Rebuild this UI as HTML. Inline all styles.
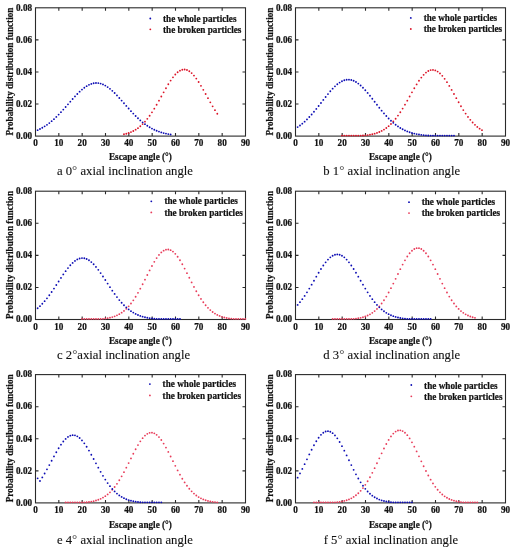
<!DOCTYPE html>
<html><head><meta charset="utf-8"><title>Escape angle distributions</title>
<style>html,body{margin:0;padding:0;background:#fff}svg{display:block}text{font-family:"Liberation Serif",serif;fill:#111}.b{font-weight:bold;font-size:9.9px;stroke:#111;stroke-width:.22px}.c{font-size:13.1px;stroke:#111;stroke-width:.12px}</style></head><body>
<svg width="513" height="550" viewBox="0 0 513 550">
<rect width="513" height="550" fill="#fff"/>
<g>
<rect x="35.5" y="7.8" width="210" height="128.3" fill="none" stroke="#2a2a2a" stroke-width="1.1"/>
<path d="M58.83 136.1v-3M58.83 7.8v3M82.17 136.1v-3M82.17 7.8v3M105.5 136.1v-3M105.5 7.8v3M128.83 136.1v-3M128.83 7.8v3M152.17 136.1v-3M152.17 7.8v3M175.5 136.1v-3M175.5 7.8v3M198.83 136.1v-3M198.83 7.8v3M222.17 136.1v-3M222.17 7.8v3M35.5 104.03h3M245.5 104.03h-3M35.5 71.95h3M245.5 71.95h-3M35.5 39.88h3M245.5 39.88h-3" stroke="#2a2a2a" stroke-width="1.1" fill="none"/>
<text class="b" transform="translate(35.5 146.3) scale(0.928 1)" text-anchor="middle">0</text>
<text class="b" transform="translate(58.83 146.3) scale(0.928 1)" text-anchor="middle">10</text>
<text class="b" transform="translate(82.17 146.3) scale(0.928 1)" text-anchor="middle">20</text>
<text class="b" transform="translate(105.5 146.3) scale(0.928 1)" text-anchor="middle">30</text>
<text class="b" transform="translate(128.83 146.3) scale(0.928 1)" text-anchor="middle">40</text>
<text class="b" transform="translate(152.17 146.3) scale(0.928 1)" text-anchor="middle">50</text>
<text class="b" transform="translate(175.5 146.3) scale(0.928 1)" text-anchor="middle">60</text>
<text class="b" transform="translate(198.83 146.3) scale(0.928 1)" text-anchor="middle">70</text>
<text class="b" transform="translate(222.17 146.3) scale(0.928 1)" text-anchor="middle">80</text>
<text class="b" transform="translate(245.5 146.3) scale(0.928 1)" text-anchor="middle">90</text>
<text class="b" transform="translate(32.1 138.9) scale(0.928 1)" text-anchor="end">0.00</text>
<text class="b" transform="translate(32.1 106.83) scale(0.928 1)" text-anchor="end">0.02</text>
<text class="b" transform="translate(32.1 74.75) scale(0.928 1)" text-anchor="end">0.04</text>
<text class="b" transform="translate(32.1 42.68) scale(0.928 1)" text-anchor="end">0.06</text>
<text class="b" transform="translate(32.1 10.6) scale(0.928 1)" text-anchor="end">0.08</text>
<text class="b" transform="translate(140.4 159.8) scale(0.928 1)" text-anchor="middle">Escape angle (°)</text>
<text class="b" transform="translate(12.6 71.55) rotate(-90) scale(0.928 1)" text-anchor="middle">Probability distribution function</text>
<text class="c" x="57" y="175.3" textLength="135.9" lengthAdjust="spacingAndGlyphs">a 0<tspan dy="-1.1" font-size="13.4" stroke="none" fill="#444">°</tspan><tspan dy="1.1"> axial inclination angle</tspan></text>
<circle cx="150.3" cy="18.5" r="0.92" fill="#0c0cb4"/>
<circle cx="150.3" cy="29.3" r="0.92" fill="#dc1428"/>
<text class="b" transform="translate(163 21.9) scale(0.928 1)">the whole particles</text>
<text class="b" transform="translate(163 32.9) scale(0.928 1)">the broken particles</text>
<g fill="#dc1428">
<circle cx="123.97" cy="134.29" r="0.92"/>
<circle cx="126.3" cy="133.72" r="0.92"/>
<circle cx="128.63" cy="133" r="0.92"/>
<circle cx="130.97" cy="132.11" r="0.92"/>
<circle cx="133.3" cy="131.02" r="0.92"/>
<circle cx="135.63" cy="129.7" r="0.92"/>
<circle cx="137.97" cy="128.13" r="0.92"/>
<circle cx="140.3" cy="126.28" r="0.92"/>
<circle cx="142.63" cy="124.12" r="0.92"/>
<circle cx="144.97" cy="121.66" r="0.92"/>
<circle cx="147.3" cy="118.87" r="0.92"/>
<circle cx="149.63" cy="115.76" r="0.92"/>
<circle cx="151.97" cy="112.36" r="0.92"/>
<circle cx="154.3" cy="108.68" r="0.92"/>
<circle cx="156.63" cy="104.77" r="0.92"/>
<circle cx="158.97" cy="100.69" r="0.92"/>
<circle cx="161.3" cy="96.52" r="0.92"/>
<circle cx="163.63" cy="92.32" r="0.92"/>
<circle cx="165.97" cy="88.21" r="0.92"/>
<circle cx="168.3" cy="84.27" r="0.92"/>
<circle cx="170.63" cy="80.61" r="0.92"/>
<circle cx="172.97" cy="77.33" r="0.92"/>
<circle cx="175.3" cy="74.53" r="0.92"/>
<circle cx="177.63" cy="72.29" r="0.92"/>
<circle cx="179.97" cy="70.68" r="0.92"/>
<circle cx="182.3" cy="69.75" r="0.92"/>
<circle cx="184.63" cy="69.54" r="0.92"/>
<circle cx="186.97" cy="70.04" r="0.92"/>
<circle cx="189.3" cy="71.25" r="0.92"/>
<circle cx="191.63" cy="73.11" r="0.92"/>
<circle cx="193.97" cy="75.59" r="0.92"/>
<circle cx="196.3" cy="78.59" r="0.92"/>
<circle cx="198.63" cy="82.03" r="0.92"/>
<circle cx="200.97" cy="85.82" r="0.92"/>
<circle cx="203.3" cy="89.84" r="0.92"/>
<circle cx="205.63" cy="94" r="0.92"/>
<circle cx="207.97" cy="98.2" r="0.92"/>
<circle cx="210.3" cy="102.34" r="0.92"/>
<circle cx="212.63" cy="106.36" r="0.92"/>
<circle cx="214.97" cy="110.18" r="0.92"/>
<circle cx="217.3" cy="113.75" r="0.92"/>
</g>
<g fill="#0c0cb4">
<circle cx="37.63" cy="130.14" r="0.92"/>
<circle cx="39.97" cy="129.03" r="0.92"/>
<circle cx="42.3" cy="127.78" r="0.92"/>
<circle cx="44.63" cy="126.37" r="0.92"/>
<circle cx="46.97" cy="124.8" r="0.92"/>
<circle cx="49.3" cy="123.07" r="0.92"/>
<circle cx="51.63" cy="121.18" r="0.92"/>
<circle cx="53.97" cy="119.13" r="0.92"/>
<circle cx="56.3" cy="116.93" r="0.92"/>
<circle cx="58.63" cy="114.59" r="0.92"/>
<circle cx="60.97" cy="112.14" r="0.92"/>
<circle cx="63.3" cy="109.58" r="0.92"/>
<circle cx="65.63" cy="106.96" r="0.92"/>
<circle cx="67.97" cy="104.3" r="0.92"/>
<circle cx="70.3" cy="101.63" r="0.92"/>
<circle cx="72.63" cy="98.99" r="0.92"/>
<circle cx="74.97" cy="96.43" r="0.92"/>
<circle cx="77.3" cy="93.98" r="0.92"/>
<circle cx="79.63" cy="91.68" r="0.92"/>
<circle cx="81.97" cy="89.59" r="0.92"/>
<circle cx="84.3" cy="87.72" r="0.92"/>
<circle cx="86.63" cy="86.13" r="0.92"/>
<circle cx="88.97" cy="84.84" r="0.92"/>
<circle cx="91.3" cy="83.88" r="0.92"/>
<circle cx="93.63" cy="83.27" r="0.92"/>
<circle cx="95.97" cy="83.01" r="0.92"/>
<circle cx="98.3" cy="83.12" r="0.92"/>
<circle cx="100.63" cy="83.59" r="0.92"/>
<circle cx="102.97" cy="84.42" r="0.92"/>
<circle cx="105.3" cy="85.58" r="0.92"/>
<circle cx="107.63" cy="87.05" r="0.92"/>
<circle cx="109.97" cy="88.81" r="0.92"/>
<circle cx="112.3" cy="90.82" r="0.92"/>
<circle cx="114.63" cy="93.04" r="0.92"/>
<circle cx="116.97" cy="95.43" r="0.92"/>
<circle cx="119.3" cy="97.96" r="0.92"/>
<circle cx="121.63" cy="100.57" r="0.92"/>
<circle cx="123.97" cy="103.23" r="0.92"/>
<circle cx="126.3" cy="105.9" r="0.92"/>
<circle cx="128.63" cy="108.54" r="0.92"/>
<circle cx="130.97" cy="111.13" r="0.92"/>
<circle cx="133.3" cy="113.62" r="0.92"/>
<circle cx="135.63" cy="116.01" r="0.92"/>
<circle cx="137.97" cy="118.27" r="0.92"/>
<circle cx="140.3" cy="120.38" r="0.92"/>
<circle cx="142.63" cy="122.34" r="0.92"/>
<circle cx="144.97" cy="124.13" r="0.92"/>
<circle cx="147.3" cy="125.76" r="0.92"/>
<circle cx="149.63" cy="127.24" r="0.92"/>
<circle cx="151.97" cy="128.55" r="0.92"/>
<circle cx="154.3" cy="129.71" r="0.92"/>
<circle cx="156.63" cy="130.73" r="0.92"/>
<circle cx="158.97" cy="131.62" r="0.92"/>
<circle cx="161.3" cy="132.39" r="0.92"/>
<circle cx="163.63" cy="133.05" r="0.92"/>
<circle cx="165.97" cy="133.61" r="0.92"/>
<circle cx="168.3" cy="134.08" r="0.92"/>
<circle cx="170.63" cy="134.47" r="0.92"/>
</g>
</g>
<g>
<rect x="295.5" y="7.8" width="210" height="128.3" fill="none" stroke="#2a2a2a" stroke-width="1.1"/>
<path d="M318.83 136.1v-3M318.83 7.8v3M342.17 136.1v-3M342.17 7.8v3M365.5 136.1v-3M365.5 7.8v3M388.83 136.1v-3M388.83 7.8v3M412.17 136.1v-3M412.17 7.8v3M435.5 136.1v-3M435.5 7.8v3M458.83 136.1v-3M458.83 7.8v3M482.17 136.1v-3M482.17 7.8v3M295.5 104.03h3M505.5 104.03h-3M295.5 71.95h3M505.5 71.95h-3M295.5 39.88h3M505.5 39.88h-3" stroke="#2a2a2a" stroke-width="1.1" fill="none"/>
<text class="b" transform="translate(295.5 146.3) scale(0.928 1)" text-anchor="middle">0</text>
<text class="b" transform="translate(318.83 146.3) scale(0.928 1)" text-anchor="middle">10</text>
<text class="b" transform="translate(342.17 146.3) scale(0.928 1)" text-anchor="middle">20</text>
<text class="b" transform="translate(365.5 146.3) scale(0.928 1)" text-anchor="middle">30</text>
<text class="b" transform="translate(388.83 146.3) scale(0.928 1)" text-anchor="middle">40</text>
<text class="b" transform="translate(412.17 146.3) scale(0.928 1)" text-anchor="middle">50</text>
<text class="b" transform="translate(435.5 146.3) scale(0.928 1)" text-anchor="middle">60</text>
<text class="b" transform="translate(458.83 146.3) scale(0.928 1)" text-anchor="middle">70</text>
<text class="b" transform="translate(482.17 146.3) scale(0.928 1)" text-anchor="middle">80</text>
<text class="b" transform="translate(505.5 146.3) scale(0.928 1)" text-anchor="middle">90</text>
<text class="b" transform="translate(292.1 138.9) scale(0.928 1)" text-anchor="end">0.00</text>
<text class="b" transform="translate(292.1 106.83) scale(0.928 1)" text-anchor="end">0.02</text>
<text class="b" transform="translate(292.1 74.75) scale(0.928 1)" text-anchor="end">0.04</text>
<text class="b" transform="translate(292.1 42.68) scale(0.928 1)" text-anchor="end">0.06</text>
<text class="b" transform="translate(292.1 10.6) scale(0.928 1)" text-anchor="end">0.08</text>
<text class="b" transform="translate(400.4 159.8) scale(0.928 1)" text-anchor="middle">Escape angle (°)</text>
<text class="b" transform="translate(272.6 71.55) rotate(-90) scale(0.928 1)" text-anchor="middle">Probability distribution function</text>
<text class="c" x="323.3" y="175.2" textLength="136.8" lengthAdjust="spacingAndGlyphs">b 1<tspan dy="-1.1" font-size="13.4" stroke="none" fill="#444">°</tspan><tspan dy="1.1"> axial inclination angle</tspan></text>
<circle cx="410.8" cy="17.9" r="0.92" fill="#0c0cb4"/>
<circle cx="410.8" cy="29" r="0.92" fill="#dc1428"/>
<text class="b" transform="translate(423.7 20.9) scale(0.928 1)">the whole particles</text>
<text class="b" transform="translate(423.7 32.4) scale(0.928 1)">the broken particles</text>
<g fill="#dc1428">
<circle cx="341.97" cy="135.55" r="0.92"/>
<circle cx="344.3" cy="135.55" r="0.92"/>
<circle cx="346.63" cy="135.55" r="0.92"/>
<circle cx="348.97" cy="135.55" r="0.92"/>
<circle cx="351.3" cy="135.55" r="0.92"/>
<circle cx="353.63" cy="135.55" r="0.92"/>
<circle cx="355.97" cy="135.55" r="0.92"/>
<circle cx="358.3" cy="135.55" r="0.92"/>
<circle cx="360.63" cy="135.55" r="0.92"/>
<circle cx="362.97" cy="135.53" r="0.92"/>
<circle cx="365.3" cy="135.32" r="0.92"/>
<circle cx="367.63" cy="135.05" r="0.92"/>
<circle cx="369.97" cy="134.69" r="0.92"/>
<circle cx="372.3" cy="134.23" r="0.92"/>
<circle cx="374.63" cy="133.65" r="0.92"/>
<circle cx="376.97" cy="132.92" r="0.92"/>
<circle cx="379.3" cy="132.01" r="0.92"/>
<circle cx="381.63" cy="130.91" r="0.92"/>
<circle cx="383.97" cy="129.58" r="0.92"/>
<circle cx="386.3" cy="127.99" r="0.92"/>
<circle cx="388.63" cy="126.13" r="0.92"/>
<circle cx="390.97" cy="123.97" r="0.92"/>
<circle cx="393.3" cy="121.5" r="0.92"/>
<circle cx="395.63" cy="118.72" r="0.92"/>
<circle cx="397.97" cy="115.62" r="0.92"/>
<circle cx="400.3" cy="112.23" r="0.92"/>
<circle cx="402.63" cy="108.57" r="0.92"/>
<circle cx="404.97" cy="104.69" r="0.92"/>
<circle cx="407.3" cy="100.65" r="0.92"/>
<circle cx="409.63" cy="96.51" r="0.92"/>
<circle cx="411.97" cy="92.36" r="0.92"/>
<circle cx="414.3" cy="88.29" r="0.92"/>
<circle cx="416.63" cy="84.4" r="0.92"/>
<circle cx="418.97" cy="80.79" r="0.92"/>
<circle cx="421.3" cy="77.56" r="0.92"/>
<circle cx="423.63" cy="74.8" r="0.92"/>
<circle cx="425.97" cy="72.59" r="0.92"/>
<circle cx="428.3" cy="71.01" r="0.92"/>
<circle cx="430.63" cy="70.09" r="0.92"/>
<circle cx="432.97" cy="69.88" r="0.92"/>
<circle cx="435.3" cy="70.38" r="0.92"/>
<circle cx="437.63" cy="71.56" r="0.92"/>
<circle cx="439.97" cy="73.4" r="0.92"/>
<circle cx="442.3" cy="75.84" r="0.92"/>
<circle cx="444.63" cy="78.8" r="0.92"/>
<circle cx="446.97" cy="82.2" r="0.92"/>
<circle cx="449.3" cy="85.93" r="0.92"/>
<circle cx="451.63" cy="89.9" r="0.92"/>
<circle cx="453.97" cy="94.02" r="0.92"/>
<circle cx="456.3" cy="98.17" r="0.92"/>
<circle cx="458.63" cy="102.28" r="0.92"/>
<circle cx="460.97" cy="106.27" r="0.92"/>
<circle cx="463.3" cy="110.06" r="0.92"/>
<circle cx="465.63" cy="113.62" r="0.92"/>
<circle cx="467.97" cy="116.89" r="0.92"/>
<circle cx="470.3" cy="119.87" r="0.92"/>
<circle cx="472.63" cy="122.53" r="0.92"/>
<circle cx="474.97" cy="124.87" r="0.92"/>
<circle cx="477.3" cy="126.91" r="0.92"/>
<circle cx="479.63" cy="128.66" r="0.92"/>
<circle cx="481.97" cy="130.14" r="0.92"/>
</g>
<g fill="#0c0cb4">
<circle cx="297.63" cy="127.08" r="0.92"/>
<circle cx="299.97" cy="125.46" r="0.92"/>
<circle cx="302.3" cy="123.65" r="0.92"/>
<circle cx="304.63" cy="121.64" r="0.92"/>
<circle cx="306.97" cy="119.43" r="0.92"/>
<circle cx="309.3" cy="117.04" r="0.92"/>
<circle cx="311.63" cy="114.48" r="0.92"/>
<circle cx="313.97" cy="111.76" r="0.92"/>
<circle cx="316.3" cy="108.92" r="0.92"/>
<circle cx="318.63" cy="105.97" r="0.92"/>
<circle cx="320.97" cy="102.97" r="0.92"/>
<circle cx="323.3" cy="99.95" r="0.92"/>
<circle cx="325.63" cy="96.96" r="0.92"/>
<circle cx="327.97" cy="94.05" r="0.92"/>
<circle cx="330.3" cy="91.27" r="0.92"/>
<circle cx="332.63" cy="88.69" r="0.92"/>
<circle cx="334.97" cy="86.34" r="0.92"/>
<circle cx="337.3" cy="84.29" r="0.92"/>
<circle cx="339.63" cy="82.56" r="0.92"/>
<circle cx="341.97" cy="81.21" r="0.92"/>
<circle cx="344.3" cy="80.26" r="0.92"/>
<circle cx="346.63" cy="79.74" r="0.92"/>
<circle cx="348.97" cy="79.65" r="0.92"/>
<circle cx="351.3" cy="80" r="0.92"/>
<circle cx="353.63" cy="80.78" r="0.92"/>
<circle cx="355.97" cy="81.98" r="0.92"/>
<circle cx="358.3" cy="83.55" r="0.92"/>
<circle cx="360.63" cy="85.48" r="0.92"/>
<circle cx="362.97" cy="87.72" r="0.92"/>
<circle cx="365.3" cy="90.21" r="0.92"/>
<circle cx="367.63" cy="92.92" r="0.92"/>
<circle cx="369.97" cy="95.78" r="0.92"/>
<circle cx="372.3" cy="98.74" r="0.92"/>
<circle cx="374.63" cy="101.76" r="0.92"/>
<circle cx="376.97" cy="104.77" r="0.92"/>
<circle cx="379.3" cy="107.75" r="0.92"/>
<circle cx="381.63" cy="110.64" r="0.92"/>
<circle cx="383.97" cy="113.41" r="0.92"/>
<circle cx="386.3" cy="116.04" r="0.92"/>
<circle cx="388.63" cy="118.5" r="0.92"/>
<circle cx="390.97" cy="120.78" r="0.92"/>
<circle cx="393.3" cy="122.87" r="0.92"/>
<circle cx="395.63" cy="124.76" r="0.92"/>
<circle cx="397.97" cy="126.45" r="0.92"/>
<circle cx="400.3" cy="127.96" r="0.92"/>
<circle cx="402.63" cy="129.28" r="0.92"/>
<circle cx="404.97" cy="130.44" r="0.92"/>
<circle cx="407.3" cy="131.43" r="0.92"/>
<circle cx="409.63" cy="132.28" r="0.92"/>
<circle cx="411.97" cy="133" r="0.92"/>
<circle cx="414.3" cy="133.61" r="0.92"/>
<circle cx="416.63" cy="134.11" r="0.92"/>
<circle cx="418.97" cy="134.52" r="0.92"/>
<circle cx="421.3" cy="134.86" r="0.92"/>
<circle cx="423.63" cy="135.13" r="0.92"/>
<circle cx="425.97" cy="135.35" r="0.92"/>
<circle cx="428.3" cy="135.52" r="0.92"/>
<circle cx="430.63" cy="135.55" r="0.92"/>
<circle cx="432.97" cy="135.55" r="0.92"/>
<circle cx="435.3" cy="135.55" r="0.92"/>
<circle cx="437.63" cy="135.55" r="0.92"/>
<circle cx="439.97" cy="135.55" r="0.92"/>
<circle cx="442.3" cy="135.55" r="0.92"/>
<circle cx="444.63" cy="135.55" r="0.92"/>
<circle cx="446.97" cy="135.55" r="0.92"/>
<circle cx="449.3" cy="135.55" r="0.92"/>
<circle cx="451.63" cy="135.55" r="0.92"/>
<circle cx="453.97" cy="135.55" r="0.92"/>
</g>
</g>
<g>
<rect x="35.5" y="191.2" width="210" height="128.3" fill="none" stroke="#2a2a2a" stroke-width="1.1"/>
<path d="M58.83 319.5v-3M58.83 191.2v3M82.17 319.5v-3M82.17 191.2v3M105.5 319.5v-3M105.5 191.2v3M128.83 319.5v-3M128.83 191.2v3M152.17 319.5v-3M152.17 191.2v3M175.5 319.5v-3M175.5 191.2v3M198.83 319.5v-3M198.83 191.2v3M222.17 319.5v-3M222.17 191.2v3M35.5 287.43h3M245.5 287.43h-3M35.5 255.35h3M245.5 255.35h-3M35.5 223.28h3M245.5 223.28h-3" stroke="#2a2a2a" stroke-width="1.1" fill="none"/>
<text class="b" transform="translate(35.5 329.7) scale(0.928 1)" text-anchor="middle">0</text>
<text class="b" transform="translate(58.83 329.7) scale(0.928 1)" text-anchor="middle">10</text>
<text class="b" transform="translate(82.17 329.7) scale(0.928 1)" text-anchor="middle">20</text>
<text class="b" transform="translate(105.5 329.7) scale(0.928 1)" text-anchor="middle">30</text>
<text class="b" transform="translate(128.83 329.7) scale(0.928 1)" text-anchor="middle">40</text>
<text class="b" transform="translate(152.17 329.7) scale(0.928 1)" text-anchor="middle">50</text>
<text class="b" transform="translate(175.5 329.7) scale(0.928 1)" text-anchor="middle">60</text>
<text class="b" transform="translate(198.83 329.7) scale(0.928 1)" text-anchor="middle">70</text>
<text class="b" transform="translate(222.17 329.7) scale(0.928 1)" text-anchor="middle">80</text>
<text class="b" transform="translate(245.5 329.7) scale(0.928 1)" text-anchor="middle">90</text>
<text class="b" transform="translate(32.1 322.3) scale(0.928 1)" text-anchor="end">0.00</text>
<text class="b" transform="translate(32.1 290.23) scale(0.928 1)" text-anchor="end">0.02</text>
<text class="b" transform="translate(32.1 258.15) scale(0.928 1)" text-anchor="end">0.04</text>
<text class="b" transform="translate(32.1 226.08) scale(0.928 1)" text-anchor="end">0.06</text>
<text class="b" transform="translate(32.1 194) scale(0.928 1)" text-anchor="end">0.08</text>
<text class="b" transform="translate(140.4 344.3) scale(0.928 1)" text-anchor="middle">Escape angle (°)</text>
<text class="b" transform="translate(12.6 254.95) rotate(-90) scale(0.928 1)" text-anchor="middle">Probability distribution function</text>
<text class="c" x="57" y="358.7" textLength="133.1" lengthAdjust="spacingAndGlyphs">c 2<tspan dy="-1.1" font-size="13.4" stroke="none" fill="#444">°</tspan><tspan dy="1.1">axial inclination angle</tspan></text>
<circle cx="151.3" cy="201.3" r="0.92" fill="#0c0cb4"/>
<circle cx="151.3" cy="212.4" r="0.92" fill="#e83c5a"/>
<text class="b" transform="translate(164.4 204.4) scale(0.928 1)">the whole particles</text>
<text class="b" transform="translate(164.4 215.8) scale(0.928 1)">the broken particles</text>
<g fill="#e83c5a">
<circle cx="81.97" cy="318.95" r="0.92"/>
<circle cx="84.3" cy="318.95" r="0.92"/>
<circle cx="86.63" cy="318.95" r="0.92"/>
<circle cx="88.97" cy="318.95" r="0.92"/>
<circle cx="91.3" cy="318.95" r="0.92"/>
<circle cx="93.63" cy="318.95" r="0.92"/>
<circle cx="95.97" cy="318.95" r="0.92"/>
<circle cx="98.3" cy="318.95" r="0.92"/>
<circle cx="100.63" cy="318.95" r="0.92"/>
<circle cx="102.97" cy="318.8" r="0.92"/>
<circle cx="105.3" cy="318.53" r="0.92"/>
<circle cx="107.63" cy="318.17" r="0.92"/>
<circle cx="109.97" cy="317.7" r="0.92"/>
<circle cx="112.3" cy="317.09" r="0.92"/>
<circle cx="114.63" cy="316.31" r="0.92"/>
<circle cx="116.97" cy="315.34" r="0.92"/>
<circle cx="119.3" cy="314.14" r="0.92"/>
<circle cx="121.63" cy="312.67" r="0.92"/>
<circle cx="123.97" cy="310.9" r="0.92"/>
<circle cx="126.3" cy="308.8" r="0.92"/>
<circle cx="128.63" cy="306.35" r="0.92"/>
<circle cx="130.97" cy="303.52" r="0.92"/>
<circle cx="133.3" cy="300.33" r="0.92"/>
<circle cx="135.63" cy="296.77" r="0.92"/>
<circle cx="137.97" cy="292.87" r="0.92"/>
<circle cx="140.3" cy="288.67" r="0.92"/>
<circle cx="142.63" cy="284.24" r="0.92"/>
<circle cx="144.97" cy="279.65" r="0.92"/>
<circle cx="147.3" cy="275" r="0.92"/>
<circle cx="149.63" cy="270.4" r="0.92"/>
<circle cx="151.97" cy="265.97" r="0.92"/>
<circle cx="154.3" cy="261.83" r="0.92"/>
<circle cx="156.63" cy="258.12" r="0.92"/>
<circle cx="158.97" cy="254.95" r="0.92"/>
<circle cx="161.3" cy="252.42" r="0.92"/>
<circle cx="163.63" cy="250.63" r="0.92"/>
<circle cx="165.97" cy="249.63" r="0.92"/>
<circle cx="168.3" cy="249.46" r="0.92"/>
<circle cx="170.63" cy="250.13" r="0.92"/>
<circle cx="172.97" cy="251.61" r="0.92"/>
<circle cx="175.3" cy="253.85" r="0.92"/>
<circle cx="177.63" cy="256.78" r="0.92"/>
<circle cx="179.97" cy="260.29" r="0.92"/>
<circle cx="182.3" cy="264.27" r="0.92"/>
<circle cx="184.63" cy="268.6" r="0.92"/>
<circle cx="186.97" cy="273.14" r="0.92"/>
<circle cx="189.3" cy="277.79" r="0.92"/>
<circle cx="191.63" cy="282.41" r="0.92"/>
<circle cx="193.97" cy="286.92" r="0.92"/>
<circle cx="196.3" cy="291.22" r="0.92"/>
<circle cx="198.63" cy="295.25" r="0.92"/>
<circle cx="200.97" cy="298.95" r="0.92"/>
<circle cx="203.3" cy="302.29" r="0.92"/>
<circle cx="205.63" cy="305.26" r="0.92"/>
<circle cx="207.97" cy="307.86" r="0.92"/>
<circle cx="210.3" cy="310.1" r="0.92"/>
<circle cx="212.63" cy="312" r="0.92"/>
<circle cx="214.97" cy="313.58" r="0.92"/>
<circle cx="217.3" cy="314.89" r="0.92"/>
<circle cx="219.63" cy="315.95" r="0.92"/>
<circle cx="221.97" cy="316.8" r="0.92"/>
<circle cx="224.3" cy="317.47" r="0.92"/>
<circle cx="226.63" cy="317.99" r="0.92"/>
<circle cx="228.97" cy="318.39" r="0.92"/>
<circle cx="231.3" cy="318.7" r="0.92"/>
<circle cx="233.63" cy="318.93" r="0.92"/>
<circle cx="235.97" cy="318.95" r="0.92"/>
<circle cx="238.3" cy="318.95" r="0.92"/>
<circle cx="240.63" cy="318.95" r="0.92"/>
<circle cx="242.97" cy="318.95" r="0.92"/>
<circle cx="245.3" cy="318.95" r="0.92"/>
</g>
<g fill="#0c0cb4">
<circle cx="37.63" cy="308.26" r="0.92"/>
<circle cx="39.97" cy="306.14" r="0.92"/>
<circle cx="42.3" cy="303.78" r="0.92"/>
<circle cx="44.63" cy="301.16" r="0.92"/>
<circle cx="46.97" cy="298.31" r="0.92"/>
<circle cx="49.3" cy="295.24" r="0.92"/>
<circle cx="51.63" cy="291.98" r="0.92"/>
<circle cx="53.97" cy="288.56" r="0.92"/>
<circle cx="56.3" cy="285.04" r="0.92"/>
<circle cx="58.63" cy="281.47" r="0.92"/>
<circle cx="60.97" cy="277.92" r="0.92"/>
<circle cx="63.3" cy="274.45" r="0.92"/>
<circle cx="65.63" cy="271.14" r="0.92"/>
<circle cx="67.97" cy="268.06" r="0.92"/>
<circle cx="70.3" cy="265.29" r="0.92"/>
<circle cx="72.63" cy="262.89" r="0.92"/>
<circle cx="74.97" cy="260.93" r="0.92"/>
<circle cx="77.3" cy="259.45" r="0.92"/>
<circle cx="79.63" cy="258.5" r="0.92"/>
<circle cx="81.97" cy="258.11" r="0.92"/>
<circle cx="84.3" cy="258.28" r="0.92"/>
<circle cx="86.63" cy="259.01" r="0.92"/>
<circle cx="88.97" cy="260.28" r="0.92"/>
<circle cx="91.3" cy="262.05" r="0.92"/>
<circle cx="93.63" cy="264.28" r="0.92"/>
<circle cx="95.97" cy="266.91" r="0.92"/>
<circle cx="98.3" cy="269.87" r="0.92"/>
<circle cx="100.63" cy="273.1" r="0.92"/>
<circle cx="102.97" cy="276.52" r="0.92"/>
<circle cx="105.3" cy="280.04" r="0.92"/>
<circle cx="107.63" cy="283.62" r="0.92"/>
<circle cx="109.97" cy="287.16" r="0.92"/>
<circle cx="112.3" cy="290.63" r="0.92"/>
<circle cx="114.63" cy="293.95" r="0.92"/>
<circle cx="116.97" cy="297.11" r="0.92"/>
<circle cx="119.3" cy="300.05" r="0.92"/>
<circle cx="121.63" cy="302.76" r="0.92"/>
<circle cx="123.97" cy="305.23" r="0.92"/>
<circle cx="126.3" cy="307.44" r="0.92"/>
<circle cx="128.63" cy="309.4" r="0.92"/>
<circle cx="130.97" cy="311.13" r="0.92"/>
<circle cx="133.3" cy="312.62" r="0.92"/>
<circle cx="135.63" cy="313.9" r="0.92"/>
<circle cx="137.97" cy="314.98" r="0.92"/>
<circle cx="140.3" cy="315.88" r="0.92"/>
<circle cx="142.63" cy="316.64" r="0.92"/>
<circle cx="144.97" cy="317.25" r="0.92"/>
<circle cx="147.3" cy="317.75" r="0.92"/>
<circle cx="149.63" cy="318.15" r="0.92"/>
<circle cx="151.97" cy="318.47" r="0.92"/>
<circle cx="154.3" cy="318.72" r="0.92"/>
<circle cx="156.63" cy="318.92" r="0.92"/>
<circle cx="158.97" cy="318.95" r="0.92"/>
<circle cx="161.3" cy="318.95" r="0.92"/>
<circle cx="163.63" cy="318.95" r="0.92"/>
<circle cx="165.97" cy="318.95" r="0.92"/>
<circle cx="168.3" cy="318.95" r="0.92"/>
<circle cx="170.63" cy="318.95" r="0.92"/>
<circle cx="172.97" cy="318.95" r="0.92"/>
<circle cx="175.3" cy="318.95" r="0.92"/>
<circle cx="177.63" cy="318.95" r="0.92"/>
<circle cx="179.97" cy="318.95" r="0.92"/>
</g>
</g>
<g>
<rect x="295.5" y="191.2" width="210" height="128.3" fill="none" stroke="#2a2a2a" stroke-width="1.1"/>
<path d="M318.83 319.5v-3M318.83 191.2v3M342.17 319.5v-3M342.17 191.2v3M365.5 319.5v-3M365.5 191.2v3M388.83 319.5v-3M388.83 191.2v3M412.17 319.5v-3M412.17 191.2v3M435.5 319.5v-3M435.5 191.2v3M458.83 319.5v-3M458.83 191.2v3M482.17 319.5v-3M482.17 191.2v3M295.5 287.43h3M505.5 287.43h-3M295.5 255.35h3M505.5 255.35h-3M295.5 223.28h3M505.5 223.28h-3" stroke="#2a2a2a" stroke-width="1.1" fill="none"/>
<text class="b" transform="translate(295.5 329.7) scale(0.928 1)" text-anchor="middle">0</text>
<text class="b" transform="translate(318.83 329.7) scale(0.928 1)" text-anchor="middle">10</text>
<text class="b" transform="translate(342.17 329.7) scale(0.928 1)" text-anchor="middle">20</text>
<text class="b" transform="translate(365.5 329.7) scale(0.928 1)" text-anchor="middle">30</text>
<text class="b" transform="translate(388.83 329.7) scale(0.928 1)" text-anchor="middle">40</text>
<text class="b" transform="translate(412.17 329.7) scale(0.928 1)" text-anchor="middle">50</text>
<text class="b" transform="translate(435.5 329.7) scale(0.928 1)" text-anchor="middle">60</text>
<text class="b" transform="translate(458.83 329.7) scale(0.928 1)" text-anchor="middle">70</text>
<text class="b" transform="translate(482.17 329.7) scale(0.928 1)" text-anchor="middle">80</text>
<text class="b" transform="translate(505.5 329.7) scale(0.928 1)" text-anchor="middle">90</text>
<text class="b" transform="translate(292.1 322.3) scale(0.928 1)" text-anchor="end">0.00</text>
<text class="b" transform="translate(292.1 290.23) scale(0.928 1)" text-anchor="end">0.02</text>
<text class="b" transform="translate(292.1 258.15) scale(0.928 1)" text-anchor="end">0.04</text>
<text class="b" transform="translate(292.1 226.08) scale(0.928 1)" text-anchor="end">0.06</text>
<text class="b" transform="translate(292.1 194) scale(0.928 1)" text-anchor="end">0.08</text>
<text class="b" transform="translate(400.4 344.3) scale(0.928 1)" text-anchor="middle">Escape angle (°)</text>
<text class="b" transform="translate(272.6 254.95) rotate(-90) scale(0.928 1)" text-anchor="middle">Probability distribution function</text>
<text class="c" x="323.3" y="359.1" textLength="136.8" lengthAdjust="spacingAndGlyphs">d 3<tspan dy="-1.1" font-size="13.4" stroke="none" fill="#444">°</tspan><tspan dy="1.1"> axial inclination angle</tspan></text>
<circle cx="409" cy="202.2" r="0.92" fill="#0c0cb4"/>
<circle cx="409" cy="213.1" r="0.92" fill="#e83c5a"/>
<text class="b" transform="translate(421.7 205.2) scale(0.928 1)">the whole particles</text>
<text class="b" transform="translate(421.7 216.4) scale(0.928 1)">the broken particles</text>
<g fill="#e83c5a">
<circle cx="332.63" cy="318.95" r="0.92"/>
<circle cx="334.97" cy="318.95" r="0.92"/>
<circle cx="337.3" cy="318.95" r="0.92"/>
<circle cx="339.63" cy="318.95" r="0.92"/>
<circle cx="341.97" cy="318.95" r="0.92"/>
<circle cx="344.3" cy="318.95" r="0.92"/>
<circle cx="346.63" cy="318.95" r="0.92"/>
<circle cx="348.97" cy="318.95" r="0.92"/>
<circle cx="351.3" cy="318.95" r="0.92"/>
<circle cx="353.63" cy="318.86" r="0.92"/>
<circle cx="355.97" cy="318.61" r="0.92"/>
<circle cx="358.3" cy="318.27" r="0.92"/>
<circle cx="360.63" cy="317.81" r="0.92"/>
<circle cx="362.97" cy="317.22" r="0.92"/>
<circle cx="365.3" cy="316.47" r="0.92"/>
<circle cx="367.63" cy="315.51" r="0.92"/>
<circle cx="369.97" cy="314.31" r="0.92"/>
<circle cx="372.3" cy="312.84" r="0.92"/>
<circle cx="374.63" cy="311.06" r="0.92"/>
<circle cx="376.97" cy="308.93" r="0.92"/>
<circle cx="379.3" cy="306.43" r="0.92"/>
<circle cx="381.63" cy="303.54" r="0.92"/>
<circle cx="383.97" cy="300.26" r="0.92"/>
<circle cx="386.3" cy="296.58" r="0.92"/>
<circle cx="388.63" cy="292.54" r="0.92"/>
<circle cx="390.97" cy="288.19" r="0.92"/>
<circle cx="393.3" cy="283.58" r="0.92"/>
<circle cx="395.63" cy="278.8" r="0.92"/>
<circle cx="397.97" cy="273.96" r="0.92"/>
<circle cx="400.3" cy="269.18" r="0.92"/>
<circle cx="402.63" cy="264.59" r="0.92"/>
<circle cx="404.97" cy="260.31" r="0.92"/>
<circle cx="407.3" cy="256.5" r="0.92"/>
<circle cx="409.63" cy="253.28" r="0.92"/>
<circle cx="411.97" cy="250.75" r="0.92"/>
<circle cx="414.3" cy="249.01" r="0.92"/>
<circle cx="416.63" cy="248.13" r="0.92"/>
<circle cx="418.97" cy="248.13" r="0.92"/>
<circle cx="421.3" cy="249.01" r="0.92"/>
<circle cx="423.63" cy="250.75" r="0.92"/>
<circle cx="425.97" cy="253.28" r="0.92"/>
<circle cx="428.3" cy="256.5" r="0.92"/>
<circle cx="430.63" cy="260.31" r="0.92"/>
<circle cx="432.97" cy="264.59" r="0.92"/>
<circle cx="435.3" cy="269.18" r="0.92"/>
<circle cx="437.63" cy="273.96" r="0.92"/>
<circle cx="439.97" cy="278.8" r="0.92"/>
<circle cx="442.3" cy="283.58" r="0.92"/>
<circle cx="444.63" cy="288.19" r="0.92"/>
<circle cx="446.97" cy="292.54" r="0.92"/>
<circle cx="449.3" cy="296.58" r="0.92"/>
<circle cx="451.63" cy="300.26" r="0.92"/>
<circle cx="453.97" cy="303.54" r="0.92"/>
<circle cx="456.3" cy="306.43" r="0.92"/>
<circle cx="458.63" cy="308.93" r="0.92"/>
<circle cx="460.97" cy="311.06" r="0.92"/>
<circle cx="463.3" cy="312.84" r="0.92"/>
<circle cx="465.63" cy="314.31" r="0.92"/>
<circle cx="467.97" cy="315.51" r="0.92"/>
<circle cx="470.3" cy="316.47" r="0.92"/>
<circle cx="472.63" cy="317.22" r="0.92"/>
<circle cx="474.97" cy="317.81" r="0.92"/>
</g>
<g fill="#0c0cb4">
<circle cx="297.63" cy="304.91" r="0.92"/>
<circle cx="299.97" cy="302.19" r="0.92"/>
<circle cx="302.3" cy="299.18" r="0.92"/>
<circle cx="304.63" cy="295.89" r="0.92"/>
<circle cx="306.97" cy="292.35" r="0.92"/>
<circle cx="309.3" cy="288.6" r="0.92"/>
<circle cx="311.63" cy="284.7" r="0.92"/>
<circle cx="313.97" cy="280.71" r="0.92"/>
<circle cx="316.3" cy="276.7" r="0.92"/>
<circle cx="318.63" cy="272.76" r="0.92"/>
<circle cx="320.97" cy="268.99" r="0.92"/>
<circle cx="323.3" cy="265.48" r="0.92"/>
<circle cx="325.63" cy="262.31" r="0.92"/>
<circle cx="327.97" cy="259.58" r="0.92"/>
<circle cx="330.3" cy="257.37" r="0.92"/>
<circle cx="332.63" cy="255.75" r="0.92"/>
<circle cx="334.97" cy="254.75" r="0.92"/>
<circle cx="337.3" cy="254.41" r="0.92"/>
<circle cx="339.63" cy="254.75" r="0.92"/>
<circle cx="341.97" cy="255.75" r="0.92"/>
<circle cx="344.3" cy="257.37" r="0.92"/>
<circle cx="346.63" cy="259.58" r="0.92"/>
<circle cx="348.97" cy="262.31" r="0.92"/>
<circle cx="351.3" cy="265.48" r="0.92"/>
<circle cx="353.63" cy="268.99" r="0.92"/>
<circle cx="355.97" cy="272.76" r="0.92"/>
<circle cx="358.3" cy="276.7" r="0.92"/>
<circle cx="360.63" cy="280.71" r="0.92"/>
<circle cx="362.97" cy="284.7" r="0.92"/>
<circle cx="365.3" cy="288.6" r="0.92"/>
<circle cx="367.63" cy="292.35" r="0.92"/>
<circle cx="369.97" cy="295.89" r="0.92"/>
<circle cx="372.3" cy="299.18" r="0.92"/>
<circle cx="374.63" cy="302.19" r="0.92"/>
<circle cx="376.97" cy="304.91" r="0.92"/>
<circle cx="379.3" cy="307.33" r="0.92"/>
<circle cx="381.63" cy="309.45" r="0.92"/>
<circle cx="383.97" cy="311.29" r="0.92"/>
<circle cx="386.3" cy="312.86" r="0.92"/>
<circle cx="388.63" cy="314.18" r="0.92"/>
<circle cx="390.97" cy="315.29" r="0.92"/>
<circle cx="393.3" cy="316.2" r="0.92"/>
<circle cx="395.63" cy="316.94" r="0.92"/>
<circle cx="397.97" cy="317.53" r="0.92"/>
<circle cx="400.3" cy="318" r="0.92"/>
<circle cx="402.63" cy="318.37" r="0.92"/>
<circle cx="404.97" cy="318.66" r="0.92"/>
<circle cx="407.3" cy="318.88" r="0.92"/>
<circle cx="409.63" cy="318.95" r="0.92"/>
<circle cx="411.97" cy="318.95" r="0.92"/>
<circle cx="414.3" cy="318.95" r="0.92"/>
<circle cx="416.63" cy="318.95" r="0.92"/>
<circle cx="418.97" cy="318.95" r="0.92"/>
<circle cx="421.3" cy="318.95" r="0.92"/>
<circle cx="423.63" cy="318.95" r="0.92"/>
<circle cx="425.97" cy="318.95" r="0.92"/>
<circle cx="428.3" cy="318.95" r="0.92"/>
<circle cx="430.63" cy="318.95" r="0.92"/>
</g>
</g>
<g>
<rect x="35.5" y="374.6" width="210" height="128.3" fill="none" stroke="#2a2a2a" stroke-width="1.1"/>
<path d="M58.83 502.9v-3M58.83 374.6v3M82.17 502.9v-3M82.17 374.6v3M105.5 502.9v-3M105.5 374.6v3M128.83 502.9v-3M128.83 374.6v3M152.17 502.9v-3M152.17 374.6v3M175.5 502.9v-3M175.5 374.6v3M198.83 502.9v-3M198.83 374.6v3M222.17 502.9v-3M222.17 374.6v3M35.5 470.83h3M245.5 470.83h-3M35.5 438.75h3M245.5 438.75h-3M35.5 406.68h3M245.5 406.68h-3" stroke="#2a2a2a" stroke-width="1.1" fill="none"/>
<text class="b" transform="translate(35.5 513.1) scale(0.928 1)" text-anchor="middle">0</text>
<text class="b" transform="translate(58.83 513.1) scale(0.928 1)" text-anchor="middle">10</text>
<text class="b" transform="translate(82.17 513.1) scale(0.928 1)" text-anchor="middle">20</text>
<text class="b" transform="translate(105.5 513.1) scale(0.928 1)" text-anchor="middle">30</text>
<text class="b" transform="translate(128.83 513.1) scale(0.928 1)" text-anchor="middle">40</text>
<text class="b" transform="translate(152.17 513.1) scale(0.928 1)" text-anchor="middle">50</text>
<text class="b" transform="translate(175.5 513.1) scale(0.928 1)" text-anchor="middle">60</text>
<text class="b" transform="translate(198.83 513.1) scale(0.928 1)" text-anchor="middle">70</text>
<text class="b" transform="translate(222.17 513.1) scale(0.928 1)" text-anchor="middle">80</text>
<text class="b" transform="translate(245.5 513.1) scale(0.928 1)" text-anchor="middle">90</text>
<text class="b" transform="translate(32.1 505.7) scale(0.928 1)" text-anchor="end">0.00</text>
<text class="b" transform="translate(32.1 473.63) scale(0.928 1)" text-anchor="end">0.02</text>
<text class="b" transform="translate(32.1 441.55) scale(0.928 1)" text-anchor="end">0.04</text>
<text class="b" transform="translate(32.1 409.48) scale(0.928 1)" text-anchor="end">0.06</text>
<text class="b" transform="translate(32.1 377.4) scale(0.928 1)" text-anchor="end">0.08</text>
<text class="b" transform="translate(140.4 528) scale(0.928 1)" text-anchor="middle">Escape angle (°)</text>
<text class="b" transform="translate(12.6 438.35) rotate(-90) scale(0.928 1)" text-anchor="middle">Probability distribution function</text>
<text class="c" x="57" y="543.8" textLength="135.9" lengthAdjust="spacingAndGlyphs">e 4<tspan dy="-1.1" font-size="13.4" stroke="none" fill="#444">°</tspan><tspan dy="1.1"> axial inclination angle</tspan></text>
<circle cx="149.9" cy="384.1" r="0.92" fill="#0c0cb4"/>
<circle cx="149.9" cy="395.4" r="0.92" fill="#e83c5a"/>
<text class="b" transform="translate(162.6 387.3) scale(0.928 1)">the whole particles</text>
<text class="b" transform="translate(162.6 399) scale(0.928 1)">the broken particles</text>
<g fill="#e83c5a">
<circle cx="65.63" cy="502.35" r="0.92"/>
<circle cx="67.97" cy="502.35" r="0.92"/>
<circle cx="70.3" cy="502.35" r="0.92"/>
<circle cx="72.63" cy="502.35" r="0.92"/>
<circle cx="74.97" cy="502.35" r="0.92"/>
<circle cx="77.3" cy="502.35" r="0.92"/>
<circle cx="79.63" cy="502.35" r="0.92"/>
<circle cx="81.97" cy="502.35" r="0.92"/>
<circle cx="84.3" cy="502.35" r="0.92"/>
<circle cx="86.63" cy="502.22" r="0.92"/>
<circle cx="88.97" cy="501.95" r="0.92"/>
<circle cx="91.3" cy="501.6" r="0.92"/>
<circle cx="93.63" cy="501.13" r="0.92"/>
<circle cx="95.97" cy="500.53" r="0.92"/>
<circle cx="98.3" cy="499.77" r="0.92"/>
<circle cx="100.63" cy="498.81" r="0.92"/>
<circle cx="102.97" cy="497.61" r="0.92"/>
<circle cx="105.3" cy="496.15" r="0.92"/>
<circle cx="107.63" cy="494.39" r="0.92"/>
<circle cx="109.97" cy="492.3" r="0.92"/>
<circle cx="112.3" cy="489.85" r="0.92"/>
<circle cx="114.63" cy="487.03" r="0.92"/>
<circle cx="116.97" cy="483.83" r="0.92"/>
<circle cx="119.3" cy="480.26" r="0.92"/>
<circle cx="121.63" cy="476.35" r="0.92"/>
<circle cx="123.97" cy="472.14" r="0.92"/>
<circle cx="126.3" cy="467.68" r="0.92"/>
<circle cx="128.63" cy="463.06" r="0.92"/>
<circle cx="130.97" cy="458.38" r="0.92"/>
<circle cx="133.3" cy="453.75" r="0.92"/>
<circle cx="135.63" cy="449.28" r="0.92"/>
<circle cx="137.97" cy="445.12" r="0.92"/>
<circle cx="140.3" cy="441.37" r="0.92"/>
<circle cx="142.63" cy="438.17" r="0.92"/>
<circle cx="144.97" cy="435.62" r="0.92"/>
<circle cx="147.3" cy="433.81" r="0.92"/>
<circle cx="149.63" cy="432.8" r="0.92"/>
<circle cx="151.97" cy="432.63" r="0.92"/>
<circle cx="154.3" cy="433.31" r="0.92"/>
<circle cx="156.63" cy="434.8" r="0.92"/>
<circle cx="158.97" cy="437.07" r="0.92"/>
<circle cx="161.3" cy="440.02" r="0.92"/>
<circle cx="163.63" cy="443.56" r="0.92"/>
<circle cx="165.97" cy="447.57" r="0.92"/>
<circle cx="168.3" cy="451.94" r="0.92"/>
<circle cx="170.63" cy="456.52" r="0.92"/>
<circle cx="172.97" cy="461.19" r="0.92"/>
<circle cx="175.3" cy="465.85" r="0.92"/>
<circle cx="177.63" cy="470.38" r="0.92"/>
<circle cx="179.97" cy="474.7" r="0.92"/>
<circle cx="182.3" cy="478.74" r="0.92"/>
<circle cx="184.63" cy="482.45" r="0.92"/>
<circle cx="186.97" cy="485.79" r="0.92"/>
<circle cx="189.3" cy="488.76" r="0.92"/>
<circle cx="191.63" cy="491.36" r="0.92"/>
<circle cx="193.97" cy="493.59" r="0.92"/>
<circle cx="196.3" cy="495.48" r="0.92"/>
<circle cx="198.63" cy="497.06" r="0.92"/>
<circle cx="200.97" cy="498.36" r="0.92"/>
<circle cx="203.3" cy="499.41" r="0.92"/>
<circle cx="205.63" cy="500.25" r="0.92"/>
<circle cx="207.97" cy="500.91" r="0.92"/>
<circle cx="210.3" cy="501.43" r="0.92"/>
<circle cx="212.63" cy="501.82" r="0.92"/>
<circle cx="214.97" cy="502.12" r="0.92"/>
<circle cx="217.3" cy="502.34" r="0.92"/>
</g>
<g fill="#0c0cb4">
<circle cx="37.63" cy="478.36" r="0.92"/>
<circle cx="39.97" cy="481.04" r="0.92"/>
<circle cx="42.3" cy="477.4" r="0.92"/>
<circle cx="44.63" cy="473.5" r="0.92"/>
<circle cx="46.97" cy="469.37" r="0.92"/>
<circle cx="49.3" cy="465.09" r="0.92"/>
<circle cx="51.63" cy="460.75" r="0.92"/>
<circle cx="53.97" cy="456.42" r="0.92"/>
<circle cx="56.3" cy="452.23" r="0.92"/>
<circle cx="58.63" cy="448.27" r="0.92"/>
<circle cx="60.97" cy="444.66" r="0.92"/>
<circle cx="63.3" cy="441.51" r="0.92"/>
<circle cx="65.63" cy="438.91" r="0.92"/>
<circle cx="67.97" cy="436.94" r="0.92"/>
<circle cx="70.3" cy="435.67" r="0.92"/>
<circle cx="72.63" cy="435.14" r="0.92"/>
<circle cx="74.97" cy="435.37" r="0.92"/>
<circle cx="77.3" cy="436.35" r="0.92"/>
<circle cx="79.63" cy="438.04" r="0.92"/>
<circle cx="81.97" cy="440.4" r="0.92"/>
<circle cx="84.3" cy="443.34" r="0.92"/>
<circle cx="86.63" cy="446.78" r="0.92"/>
<circle cx="88.97" cy="450.61" r="0.92"/>
<circle cx="91.3" cy="454.72" r="0.92"/>
<circle cx="93.63" cy="459.01" r="0.92"/>
<circle cx="95.97" cy="463.36" r="0.92"/>
<circle cx="98.3" cy="467.67" r="0.92"/>
<circle cx="100.63" cy="471.87" r="0.92"/>
<circle cx="102.97" cy="475.87" r="0.92"/>
<circle cx="105.3" cy="479.62" r="0.92"/>
<circle cx="107.63" cy="483.07" r="0.92"/>
<circle cx="109.97" cy="486.2" r="0.92"/>
<circle cx="112.3" cy="488.99" r="0.92"/>
<circle cx="114.63" cy="491.44" r="0.92"/>
<circle cx="116.97" cy="493.57" r="0.92"/>
<circle cx="119.3" cy="495.39" r="0.92"/>
<circle cx="121.63" cy="496.92" r="0.92"/>
<circle cx="123.97" cy="498.19" r="0.92"/>
<circle cx="126.3" cy="499.23" r="0.92"/>
<circle cx="128.63" cy="500.08" r="0.92"/>
<circle cx="130.97" cy="500.75" r="0.92"/>
<circle cx="133.3" cy="501.28" r="0.92"/>
<circle cx="135.63" cy="501.7" r="0.92"/>
<circle cx="137.97" cy="502.01" r="0.92"/>
<circle cx="140.3" cy="502.25" r="0.92"/>
<circle cx="142.63" cy="502.35" r="0.92"/>
<circle cx="144.97" cy="502.35" r="0.92"/>
<circle cx="147.3" cy="502.35" r="0.92"/>
<circle cx="149.63" cy="502.35" r="0.92"/>
<circle cx="151.97" cy="502.35" r="0.92"/>
<circle cx="154.3" cy="502.35" r="0.92"/>
<circle cx="156.63" cy="502.35" r="0.92"/>
<circle cx="158.97" cy="502.35" r="0.92"/>
<circle cx="161.3" cy="502.35" r="0.92"/>
</g>
</g>
<g>
<rect x="295.5" y="374.6" width="210" height="128.3" fill="none" stroke="#2a2a2a" stroke-width="1.1"/>
<path d="M318.83 502.9v-3M318.83 374.6v3M342.17 502.9v-3M342.17 374.6v3M365.5 502.9v-3M365.5 374.6v3M388.83 502.9v-3M388.83 374.6v3M412.17 502.9v-3M412.17 374.6v3M435.5 502.9v-3M435.5 374.6v3M458.83 502.9v-3M458.83 374.6v3M482.17 502.9v-3M482.17 374.6v3M295.5 470.83h3M505.5 470.83h-3M295.5 438.75h3M505.5 438.75h-3M295.5 406.68h3M505.5 406.68h-3" stroke="#2a2a2a" stroke-width="1.1" fill="none"/>
<text class="b" transform="translate(295.5 513.1) scale(0.928 1)" text-anchor="middle">0</text>
<text class="b" transform="translate(318.83 513.1) scale(0.928 1)" text-anchor="middle">10</text>
<text class="b" transform="translate(342.17 513.1) scale(0.928 1)" text-anchor="middle">20</text>
<text class="b" transform="translate(365.5 513.1) scale(0.928 1)" text-anchor="middle">30</text>
<text class="b" transform="translate(388.83 513.1) scale(0.928 1)" text-anchor="middle">40</text>
<text class="b" transform="translate(412.17 513.1) scale(0.928 1)" text-anchor="middle">50</text>
<text class="b" transform="translate(435.5 513.1) scale(0.928 1)" text-anchor="middle">60</text>
<text class="b" transform="translate(458.83 513.1) scale(0.928 1)" text-anchor="middle">70</text>
<text class="b" transform="translate(482.17 513.1) scale(0.928 1)" text-anchor="middle">80</text>
<text class="b" transform="translate(505.5 513.1) scale(0.928 1)" text-anchor="middle">90</text>
<text class="b" transform="translate(292.1 505.7) scale(0.928 1)" text-anchor="end">0.00</text>
<text class="b" transform="translate(292.1 473.63) scale(0.928 1)" text-anchor="end">0.02</text>
<text class="b" transform="translate(292.1 441.55) scale(0.928 1)" text-anchor="end">0.04</text>
<text class="b" transform="translate(292.1 409.48) scale(0.928 1)" text-anchor="end">0.06</text>
<text class="b" transform="translate(292.1 377.4) scale(0.928 1)" text-anchor="end">0.08</text>
<text class="b" transform="translate(400.4 528) scale(0.928 1)" text-anchor="middle">Escape angle (°)</text>
<text class="b" transform="translate(272.6 438.35) rotate(-90) scale(0.928 1)" text-anchor="middle">Probability distribution function</text>
<text class="c" x="323.7" y="543.8" textLength="134.3" lengthAdjust="spacingAndGlyphs">f 5<tspan dy="-1.1" font-size="13.4" stroke="none" fill="#444">°</tspan><tspan dy="1.1"> axial inclination angle</tspan></text>
<circle cx="411.3" cy="385" r="0.92" fill="#0c0cb4"/>
<circle cx="411.3" cy="396.3" r="0.92" fill="#e83c5a"/>
<text class="b" transform="translate(424.1 388.7) scale(0.928 1)">the whole particles</text>
<text class="b" transform="translate(424.1 400.1) scale(0.928 1)">the broken particles</text>
<g fill="#e83c5a">
<circle cx="313.97" cy="502.35" r="0.92"/>
<circle cx="316.3" cy="502.35" r="0.92"/>
<circle cx="318.63" cy="502.35" r="0.92"/>
<circle cx="320.97" cy="502.35" r="0.92"/>
<circle cx="323.3" cy="502.35" r="0.92"/>
<circle cx="325.63" cy="502.35" r="0.92"/>
<circle cx="327.97" cy="502.35" r="0.92"/>
<circle cx="330.3" cy="502.35" r="0.92"/>
<circle cx="332.63" cy="502.35" r="0.92"/>
<circle cx="334.97" cy="502.35" r="0.92"/>
<circle cx="337.3" cy="502.16" r="0.92"/>
<circle cx="339.63" cy="501.87" r="0.92"/>
<circle cx="341.97" cy="501.47" r="0.92"/>
<circle cx="344.3" cy="500.95" r="0.92"/>
<circle cx="346.63" cy="500.27" r="0.92"/>
<circle cx="348.97" cy="499.4" r="0.92"/>
<circle cx="351.3" cy="498.31" r="0.92"/>
<circle cx="353.63" cy="496.94" r="0.92"/>
<circle cx="355.97" cy="495.27" r="0.92"/>
<circle cx="358.3" cy="493.25" r="0.92"/>
<circle cx="360.63" cy="490.85" r="0.92"/>
<circle cx="362.97" cy="488.06" r="0.92"/>
<circle cx="365.3" cy="484.85" r="0.92"/>
<circle cx="367.63" cy="481.22" r="0.92"/>
<circle cx="369.97" cy="477.21" r="0.92"/>
<circle cx="372.3" cy="472.83" r="0.92"/>
<circle cx="374.63" cy="468.17" r="0.92"/>
<circle cx="376.97" cy="463.29" r="0.92"/>
<circle cx="379.3" cy="458.3" r="0.92"/>
<circle cx="381.63" cy="453.33" r="0.92"/>
<circle cx="383.97" cy="448.51" r="0.92"/>
<circle cx="386.3" cy="443.99" r="0.92"/>
<circle cx="388.63" cy="439.91" r="0.92"/>
<circle cx="390.97" cy="436.41" r="0.92"/>
<circle cx="393.3" cy="433.61" r="0.92"/>
<circle cx="395.63" cy="431.62" r="0.92"/>
<circle cx="397.97" cy="430.51" r="0.92"/>
<circle cx="400.3" cy="430.32" r="0.92"/>
<circle cx="402.63" cy="431.06" r="0.92"/>
<circle cx="404.97" cy="432.71" r="0.92"/>
<circle cx="407.3" cy="435.2" r="0.92"/>
<circle cx="409.63" cy="438.43" r="0.92"/>
<circle cx="411.97" cy="442.3" r="0.92"/>
<circle cx="414.3" cy="446.66" r="0.92"/>
<circle cx="416.63" cy="451.38" r="0.92"/>
<circle cx="418.97" cy="456.31" r="0.92"/>
<circle cx="421.3" cy="461.3" r="0.92"/>
<circle cx="423.63" cy="466.23" r="0.92"/>
<circle cx="425.97" cy="471" r="0.92"/>
<circle cx="428.3" cy="475.5" r="0.92"/>
<circle cx="430.63" cy="479.66" r="0.92"/>
<circle cx="432.97" cy="483.45" r="0.92"/>
<circle cx="435.3" cy="486.82" r="0.92"/>
<circle cx="437.63" cy="489.79" r="0.92"/>
<circle cx="439.97" cy="492.34" r="0.92"/>
<circle cx="442.3" cy="494.5" r="0.92"/>
<circle cx="444.63" cy="496.31" r="0.92"/>
<circle cx="446.97" cy="497.79" r="0.92"/>
<circle cx="449.3" cy="498.99" r="0.92"/>
<circle cx="451.63" cy="499.95" r="0.92"/>
<circle cx="453.97" cy="500.7" r="0.92"/>
<circle cx="456.3" cy="501.28" r="0.92"/>
<circle cx="458.63" cy="501.72" r="0.92"/>
<circle cx="460.97" cy="502.06" r="0.92"/>
<circle cx="463.3" cy="502.3" r="0.92"/>
<circle cx="465.63" cy="502.35" r="0.92"/>
<circle cx="467.97" cy="502.35" r="0.92"/>
<circle cx="470.3" cy="502.35" r="0.92"/>
<circle cx="472.63" cy="502.35" r="0.92"/>
<circle cx="474.97" cy="502.35" r="0.92"/>
<circle cx="477.3" cy="502.35" r="0.92"/>
</g>
<g fill="#0c0cb4">
<circle cx="297.63" cy="477.69" r="0.92"/>
<circle cx="299.97" cy="473.44" r="0.92"/>
<circle cx="302.3" cy="468.9" r="0.92"/>
<circle cx="304.63" cy="464.16" r="0.92"/>
<circle cx="306.97" cy="459.3" r="0.92"/>
<circle cx="309.3" cy="454.44" r="0.92"/>
<circle cx="311.63" cy="449.72" r="0.92"/>
<circle cx="313.97" cy="445.27" r="0.92"/>
<circle cx="316.3" cy="441.22" r="0.92"/>
<circle cx="318.63" cy="437.71" r="0.92"/>
<circle cx="320.97" cy="434.87" r="0.92"/>
<circle cx="323.3" cy="432.78" r="0.92"/>
<circle cx="325.63" cy="431.54" r="0.92"/>
<circle cx="327.97" cy="431.18" r="0.92"/>
<circle cx="330.3" cy="431.72" r="0.92"/>
<circle cx="332.63" cy="433.13" r="0.92"/>
<circle cx="334.97" cy="435.38" r="0.92"/>
<circle cx="337.3" cy="438.36" r="0.92"/>
<circle cx="339.63" cy="441.99" r="0.92"/>
<circle cx="341.97" cy="446.13" r="0.92"/>
<circle cx="344.3" cy="450.65" r="0.92"/>
<circle cx="346.63" cy="455.41" r="0.92"/>
<circle cx="348.97" cy="460.27" r="0.92"/>
<circle cx="351.3" cy="465.12" r="0.92"/>
<circle cx="353.63" cy="469.83" r="0.92"/>
<circle cx="355.97" cy="474.32" r="0.92"/>
<circle cx="358.3" cy="478.5" r="0.92"/>
<circle cx="360.63" cy="482.34" r="0.92"/>
<circle cx="362.97" cy="485.78" r="0.92"/>
<circle cx="365.3" cy="488.83" r="0.92"/>
<circle cx="367.63" cy="491.48" r="0.92"/>
<circle cx="369.97" cy="493.75" r="0.92"/>
<circle cx="372.3" cy="495.65" r="0.92"/>
<circle cx="374.63" cy="497.24" r="0.92"/>
<circle cx="376.97" cy="498.53" r="0.92"/>
<circle cx="379.3" cy="499.57" r="0.92"/>
<circle cx="381.63" cy="500.39" r="0.92"/>
<circle cx="383.97" cy="501.04" r="0.92"/>
<circle cx="386.3" cy="501.53" r="0.92"/>
<circle cx="388.63" cy="501.91" r="0.92"/>
<circle cx="390.97" cy="502.19" r="0.92"/>
<circle cx="393.3" cy="502.35" r="0.92"/>
<circle cx="395.63" cy="502.35" r="0.92"/>
<circle cx="397.97" cy="502.35" r="0.92"/>
<circle cx="400.3" cy="502.35" r="0.92"/>
<circle cx="402.63" cy="502.35" r="0.92"/>
<circle cx="404.97" cy="502.35" r="0.92"/>
<circle cx="407.3" cy="502.35" r="0.92"/>
<circle cx="409.63" cy="502.35" r="0.92"/>
<circle cx="411.97" cy="502.35" r="0.92"/>
</g>
</g>
</svg></body></html>
